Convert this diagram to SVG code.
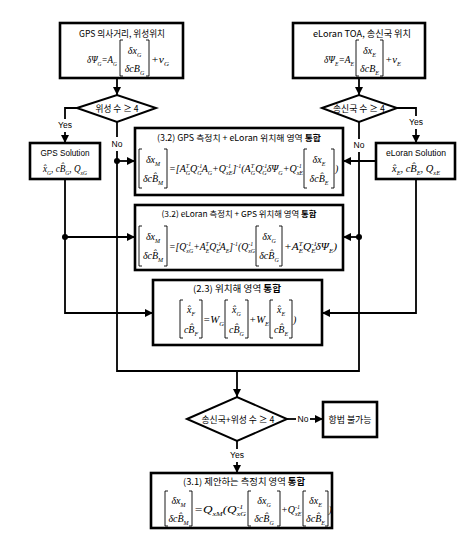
<svg xmlns="http://www.w3.org/2000/svg" width="474" height="550" viewBox="0 0 474 550">
<defs>
<marker id="ah" markerUnits="userSpaceOnUse" markerWidth="8" markerHeight="8" refX="8" refY="4" orient="auto"><path d="M0,0 L8,4 L0,8 z" fill="#000"/></marker>
</defs>
<style>
.box{fill:#fff;stroke:#000;stroke-width:2.6}
.dia{fill:#fff;stroke:#000;stroke-width:2}
.ln{fill:none;stroke:#000;stroke-width:1.8}
.ar{marker-end:url(#ah)}
.br{fill:none;stroke:#000;stroke-width:0.9}
.k{font-family:"Noto Sans CJK KR","Liberation Sans",sans-serif;font-size:9px;fill:#000}
.l{font-family:"Liberation Sans",Arial,sans-serif;font-size:8.5px;fill:#000}
.m{font-family:"Liberation Serif","Times New Roman",serif;font-style:italic;font-size:10px;fill:#000}
.s{font-size:6px}
.b{font-weight:bold}
.c{text-anchor:middle}
</style>
<rect width="474" height="550" fill="#fff"/>

<g id="connectors">
<path class="ln ar" d="M117,78 V95"/>
<path class="ln ar" d="M359,78 V95"/>
<path class="ln" d="M77,108 H65 V119"/>
<path class="ln ar" d="M65,132 V143"/>
<path class="ln" d="M117,122 V137"/>
<path class="ln" d="M117,151 V371 H359 V152"/>
<path class="ln" d="M359,122 V139"/>
<path class="ln" d="M397,108 H416 V116"/>
<path class="ln ar" d="M416,129 V143"/>
<path class="ln ar" d="M117,161 H135"/>
<path class="ln ar" d="M376,161 H343"/>
<path class="ln ar" d="M65,179 V313 H153"/>
<path class="ln ar" d="M65,237 H135"/>
<path class="ln ar" d="M416,179 V313 H322"/>
<path class="ln ar" d="M359,237 H343"/>
<path class="ln ar" d="M237,371 V397"/>
<path class="ln" d="M287,419 H296"/>
<path class="ln ar" d="M310,419 H323"/>
<path class="ln" d="M237,441 V449"/>
<path class="ln ar" d="M237,462 V473"/>
<circle cx="117" cy="161" r="3"/>
<circle cx="65" cy="237" r="3"/>
<circle cx="359" cy="237" r="3"/>
<text class="l c" x="65" y="128">Yes</text>
<text class="l c" x="117" y="147">No</text>
<text class="l c" x="416" y="125">Yes</text>
<text class="l c" x="359" y="148">No</text>
<text class="l c" x="303" y="422">No</text>
<text class="l c" x="237" y="458">Yes</text>
</g>

<g id="gps-input">
<rect class="box" x="60" y="23" width="123" height="55"/>
<text class="k c" x="122" y="37" textLength="86" lengthAdjust="spacingAndGlyphs">GPS 의사거리, 위성위치</text>
<text class="m" x="87" y="63" textLength="30" lengthAdjust="spacingAndGlyphs">δΨ<tspan class="s" dy="2.5">G</tspan><tspan dy="-2.5">=A</tspan><tspan class="s" dy="2.5">G</tspan></text>
<path class="br" d="M123,40 H120 V76 H123 M146,40 H149 V76 H146"/>
<text class="m c" x="134.5" y="54">δx<tspan class="s" dy="2.5">G</tspan></text>
<text class="m c" x="134.5" y="72">δcB<tspan class="s" dy="2.5">G</tspan></text>
<text class="m" x="151" y="63" textLength="18" lengthAdjust="spacingAndGlyphs">+v<tspan class="s" dy="2.5">G</tspan></text>
</g>

<g id="eloran-input">
<rect class="box" x="293" y="23" width="132" height="55"/>
<text class="k c" x="362" y="37" textLength="98" lengthAdjust="spacingAndGlyphs">eLoran TOA, 송신국 위치</text>
<text class="m" x="324" y="63" textLength="30" lengthAdjust="spacingAndGlyphs">δΨ<tspan class="s" dy="2.5">E</tspan><tspan dy="-2.5">=A</tspan><tspan class="s" dy="2.5">E</tspan></text>
<path class="br" d="M359,40 H356 V76 H359 M380,40 H383 V76 H380"/>
<text class="m c" x="369.5" y="54">δx<tspan class="s" dy="2.5">E</tspan></text>
<text class="m c" x="369.5" y="72">δcB<tspan class="s" dy="2.5">E</tspan></text>
<text class="m" x="385" y="63" textLength="16" lengthAdjust="spacingAndGlyphs">+v<tspan class="s" dy="2.5">E</tspan></text>
</g>

<g id="gps-check">
<polygon class="dia" points="77,108 117,95 156,108 117,122"/>
<text class="k c" x="117" y="112" textLength="43" lengthAdjust="spacingAndGlyphs">위성 수 ≥ 4</text>
</g>

<g id="eloran-check">
<polygon class="dia" points="322,108 359,95 397,108 359,122"/>
<text class="k c" x="359" y="112" textLength="52" lengthAdjust="spacingAndGlyphs">송신국 수 ≥ 4</text>
</g>

<g id="gps-solution">
<rect class="box" x="30" y="143" width="70" height="36"/>
<text class="l c" x="65" y="156" textLength="49" lengthAdjust="spacingAndGlyphs">GPS Solution</text>
<text class="m c" x="65" y="172" textLength="44" lengthAdjust="spacingAndGlyphs">x̂<tspan class="s" dy="2.5">G</tspan><tspan dy="-2.5">, cB̂</tspan><tspan class="s" dy="2.5">G</tspan><tspan dy="-2.5">, Q</tspan><tspan class="s" dy="2.5">xG</tspan></text>
</g>

<g id="eloran-solution">
<rect class="box" x="376" y="143" width="79" height="36"/>
<text class="l c" x="416" y="156" textLength="60" lengthAdjust="spacingAndGlyphs">eLoran Solution</text>
<text class="m c" x="416" y="172" textLength="48" lengthAdjust="spacingAndGlyphs">x̂<tspan class="s" dy="2.5">E</tspan><tspan dy="-2.5">, cB̂</tspan><tspan class="s" dy="2.5">E</tspan><tspan dy="-2.5">, Q</tspan><tspan class="s" dy="2.5">xE</tspan></text>
</g>

<g id="gps-meas-eloran-pos">
<rect class="box" x="135" y="128" width="208" height="67"/>
<text class="k c" x="239" y="141" style="font-size:8.5px" textLength="164" lengthAdjust="spacingAndGlyphs">(3.2) GPS 측정치 + eLoran 위치해 영역 <tspan class="b">통합</tspan></text>
<path class="br" d="M142,149 H139 V188 H142 M164,149 H167 V188 H164"/>
<text class="m c" x="153" y="163">δx<tspan class="s" dy="2.5">M</tspan></text>
<text class="m c" x="153" y="182">δcB̂<tspan class="s" dy="2.5">M</tspan></text>
<text class="m" x="169" y="172" textLength="134" lengthAdjust="spacingAndGlyphs">=[A<tspan class="s" dy="-4.5">T</tspan><tspan class="s" dx="-3.3" dy="7">G</tspan><tspan dy="-2.5">Q</tspan><tspan class="s" dy="-4.5">-1</tspan><tspan class="s" dx="-5" dy="7">G</tspan><tspan dy="-2.5">A</tspan><tspan class="s" dy="2.5">G</tspan><tspan dy="-2.5">+Q</tspan><tspan class="s" dy="-4.5">-1</tspan><tspan class="s" dx="-5" dy="7">xE</tspan><tspan dy="-2.5">]</tspan><tspan class="s" dy="-4.5">-1</tspan><tspan dy="4.5">(A</tspan><tspan class="s" dy="-4.5">T</tspan><tspan class="s" dx="-3.3" dy="7">G</tspan><tspan dy="-2.5">Q</tspan><tspan class="s" dy="-4.5">-1</tspan><tspan class="s" dx="-5" dy="7">G</tspan><tspan dy="-2.5">δΨ</tspan><tspan class="s" dy="2.5">G</tspan><tspan dy="-2.5">+Q</tspan><tspan class="s" dy="-4.5">-1</tspan><tspan class="s" dx="-5" dy="7">xE</tspan></text>
<path class="br" d="M307,149 H304 V188 H307 M331,149 H334 V188 H331"/>
<text class="m c" x="319" y="163">δx<tspan class="s" dy="2.5">E</tspan></text>
<text class="m c" x="319" y="182">δcB̂<tspan class="s" dy="2.5">E</tspan></text>
<text class="m" x="335" y="172">)</text>
</g>

<g id="eloran-meas-gps-pos">
<rect class="box" x="135" y="205" width="208" height="65"/>
<text class="k c" x="239" y="217" style="font-size:8.2px" textLength="155" lengthAdjust="spacingAndGlyphs">(3.2) eLoran 측정치 + GPS 위치해 영역 <tspan class="b">통합</tspan></text>
<path class="br" d="M142,226 H139 V266 H142 M164,226 H167 V266 H164"/>
<text class="m c" x="153" y="240">δx<tspan class="s" dy="2.5">M</tspan></text>
<text class="m c" x="153" y="259">δcB̂<tspan class="s" dy="2.5">M</tspan></text>
<text class="m" x="169" y="250" textLength="86" lengthAdjust="spacingAndGlyphs">=[Q<tspan class="s" dy="-4.5">-1</tspan><tspan class="s" dx="-5" dy="7">xG</tspan><tspan dy="-2.5">+A</tspan><tspan class="s" dy="-4.5">T</tspan><tspan class="s" dx="-3.3" dy="7">E</tspan><tspan dy="-2.5">Q</tspan><tspan class="s" dy="-4.5">-1</tspan><tspan class="s" dx="-5" dy="7">E</tspan><tspan dy="-2.5">A</tspan><tspan class="s" dy="2.5">E</tspan><tspan dy="-2.5">]</tspan><tspan class="s" dy="-4.5">-1</tspan><tspan dy="4.5">(Q</tspan><tspan class="s" dy="-4.5">-1</tspan><tspan class="s" dx="-5" dy="7">xG</tspan></text>
<path class="br" d="M259,226 H256 V266 H259 M279,226 H282 V266 H279"/>
<text class="m c" x="269" y="240">δx<tspan class="s" dy="2.5">G</tspan></text>
<text class="m c" x="269" y="259">δcB̂<tspan class="s" dy="2.5">G</tspan></text>
<text class="m" x="284" y="250" textLength="53" lengthAdjust="spacingAndGlyphs">+A<tspan class="s" dy="-4.5">T</tspan><tspan class="s" dx="-3.3" dy="7">E</tspan><tspan dy="-2.5">Q</tspan><tspan class="s" dy="-4.5">-1</tspan><tspan class="s" dx="-5" dy="7">E</tspan><tspan dy="-2.5">δΨ</tspan><tspan class="s" dy="2.5">E</tspan><tspan dy="-2.5">)</tspan></text>
</g>

<g id="position-domain">
<rect class="box" x="153" y="280" width="169" height="65"/>
<text class="k c" x="237" y="292" textLength="88" lengthAdjust="spacingAndGlyphs">(2.3) 위치해 영역 <tspan class="b">통합</tspan></text>
<path class="br" d="M183,300 H180 V338 H183 M199,300 H202 V338 H199"/>
<text class="m c" x="191" y="313">x̂<tspan class="s" dy="2.5">F</tspan></text>
<text class="m c" x="191" y="333">cB̂<tspan class="s" dy="2.5">F</tspan></text>
<text class="m" x="203" y="323" textLength="21" lengthAdjust="spacingAndGlyphs">=W<tspan class="s" dy="2.5">G</tspan></text>
<path class="br" d="M228,300 H225 V338 H228 M245,300 H248 V338 H245"/>
<text class="m c" x="236.5" y="313">x̂<tspan class="s" dy="2.5">G</tspan></text>
<text class="m c" x="236.5" y="333">cB̂<tspan class="s" dy="2.5">G</tspan></text>
<text class="m" x="249" y="323" textLength="20" lengthAdjust="spacingAndGlyphs">+W<tspan class="s" dy="2.5">E</tspan></text>
<path class="br" d="M273,300 H270 V338 H273 M289,300 H292 V338 H289"/>
<text class="m c" x="281" y="313">x̂<tspan class="s" dy="2.5">E</tspan></text>
<text class="m c" x="281" y="333">cB̂<tspan class="s" dy="2.5">E</tspan></text>
<text class="m" x="293" y="323">)</text>
</g>

<g id="total-check">
<polygon class="dia" points="187,419 237,397 287,419 237,441"/>
<text class="k c" x="238" y="423" textLength="73" lengthAdjust="spacingAndGlyphs">송신국+위성 수 ≥ 4</text>
</g>

<g id="no-navigation">
<rect class="box" x="323" y="402" width="54" height="35"/>
<text class="k c" x="350" y="423" textLength="43" lengthAdjust="spacingAndGlyphs">항법 불가능</text>
</g>

<g id="proposed-measurement-domain">
<rect class="box" x="151" y="473" width="181" height="55"/>
<text class="k c" x="244" y="485" textLength="122" lengthAdjust="spacingAndGlyphs">(3.1) 제안하는 측정치 영역 <tspan class="b">통합</tspan></text>
<path class="br" d="M168,491 H165 V526 H168 M189,491 H192 V526 H189"/>
<text class="m c" x="178.5" y="504">δx<tspan class="s" dy="2.5">M</tspan></text>
<text class="m c" x="178.5" y="522">δcB̂<tspan class="s" dy="2.5">M</tspan></text>
<text class="m" x="194" y="513" textLength="52" lengthAdjust="spacingAndGlyphs">=Q<tspan class="s" dy="2.5">xM</tspan><tspan dy="-2.5">(Q</tspan><tspan class="s" dy="-4.5">-1</tspan><tspan class="s" dx="-5" dy="7">xG</tspan></text>
<path class="br" d="M251,491 H248 V526 H251 M277,491 H280 V526 H277"/>
<text class="m c" x="264" y="504">δx<tspan class="s" dy="2.5">G</tspan></text>
<text class="m c" x="264" y="522">δcB̂<tspan class="s" dy="2.5">G</tspan></text>
<text class="m" x="281" y="513">+Q<tspan class="s" dy="-4.5">-1</tspan><tspan class="s" dx="-5" dy="7">xE</tspan></text>
<path class="br" d="M306,491 H303 V526 H306 M325,491 H328 V526 H325"/>
<text class="m c" x="315.5" y="504">δx<tspan class="s" dy="2.5">E</tspan></text>
<text class="m c" x="315.5" y="522">δcB̂<tspan class="s" dy="2.5">E</tspan></text>
<text class="m" x="328.5" y="513">)</text>
</g>
</svg>
